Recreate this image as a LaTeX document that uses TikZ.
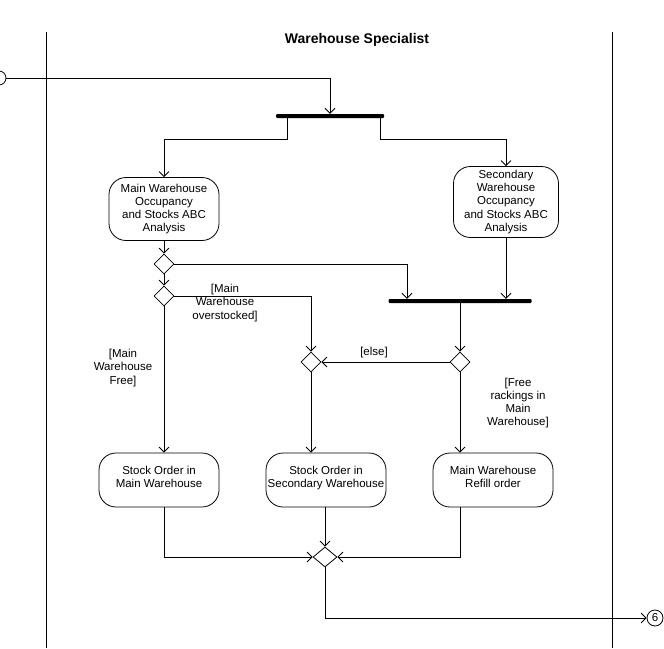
\documentclass[tikz,border=0pt]{standalone}
\usepackage{fontspec}
\setmainfont{Liberation Sans}
\usetikzlibrary{arrows.meta,shapes.geometric,calc}

\tikzset{
  action/.style={draw, line width=0.8pt, rounded corners=17pt, align=center,
    inner sep=0pt, minimum width=#1},
  action/.default=118pt,
  decision/.style={draw, line width=0.8pt, shape=diamond, inner sep=0pt,
    minimum width=20pt, minimum height=20pt},
  bar/.style={fill=black, rounded corners=1pt, inner sep=0pt, minimum height=4pt},
  flow/.style={line width=0.8pt, -{Straight Barb[length=5pt,width=10pt]}},
  guard/.style={align=center}
}

\begin{document}
\begin{tikzpicture}[x=1pt, y=-1pt, font=\fontsize{11.5}{13.3}\selectfont]

  \useasboundingbox (0,0) rectangle (664,648);

  % Swimlane
  \draw[line width=0.8pt] (46,32) -- (46,648);
  \draw[line width=0.8pt] (612,32) -- (612,648);
  \node[font=\fontsize{14}{16}\selectfont\bfseries] (lane) at (357,40) {Warehouse Specialist};

  % Connectors in and out
  \node[draw, line width=0.8pt, circle, minimum size=14pt, inner sep=0pt] (start) at (-1,78) {};
  \node[draw, line width=0.8pt, circle, minimum size=16pt, inner sep=0pt] (stop) at (655,618) {6};

  % Fork and join bars
  \node[bar, minimum width=108pt] (fork) at (330,116) {};
  \node[bar, minimum width=143pt] (join) at (460,301) {};

  % Actions
  \node[action=110pt, minimum height=63pt] (mainocc) at (164,209)
    {Main Warehouse\\Occupancy\\and Stocks ABC\\Analysis};
  \node[action=105pt, minimum height=71pt] (secocc) at (506,202)
    {Secondary\\Warehouse\\Occupancy\\and Stocks ABC\\Analysis};
  \node[action=120pt, minimum height=54pt] (stockmain) at (159,480)
    {Stock Order in\\Main Warehouse\\[-7pt]};
  \node[action=120pt, minimum height=54pt] (stocksec) at (326,480)
    {Stock Order in\\Secondary Warehouse\\[-7pt]};
  \node[action=120pt, minimum height=54pt] (refill) at (493,480)
    {Main Warehouse\\Refill order\\[-7pt]};

  % Decisions and merges
  \node[decision] (check) at (164,264) {};
  \node[decision] (free) at (164,296) {};
  \node[decision] (merge) at (311,362) {};
  \node[decision] (racks) at (460,362) {};
  \node[decision, minimum width=24pt] (done) at (325,557) {};

  % Flows
  \draw[flow] (start.east) -| (fork.north);
  \draw[flow] ([xshift=-43pt]fork.south) -- ++(0,21) -| (mainocc.north);
  \draw[flow] ([xshift=50pt]fork.south) -- ++(0,21) -| (secocc.north);
  \draw[flow] (mainocc.south) -- (check.north);
  \draw[flow] (check.east) -| ([xshift=-53pt]join.north);
  \draw[flow] (secocc.south) -- (secocc.south |- join.north);
  \draw[flow] (check.south) -- (free.north);
  \draw[flow] (free.east) -| (merge.north);
  \draw[flow] (free.south) -- (free.south |- stockmain.north);
  \draw[flow] (join.south) -- (racks.north);
  \draw[flow] (racks.west) -- (merge.east);
  \draw[flow] (merge.south) -- (merge.south |- stocksec.north);
  \draw[flow] (racks.south) -- (racks.south |- refill.north);
  \draw[flow] (free |- stockmain.south) |- (done.west);
  \draw[flow] (done |- stocksec.south) -- (done.north);
  \draw[flow] (racks |- refill.south) |- (done.east);
  \draw[flow] (done.south) |- (stop.west);

  % Guards
  \node[guard] (overstocked) at (225,303) {[Main\\Warehouse\\overstocked]};
  \node[guard] (mainfree) at (123,368) {[Main\\Warehouse\\Free]};
  \node[guard] (else) at (374,353) {[else]};
  \node[guard] (freeracks) at (518,403) {[Free\\rackings in\\Main\\Warehouse]};

\end{tikzpicture}
\end{document}
